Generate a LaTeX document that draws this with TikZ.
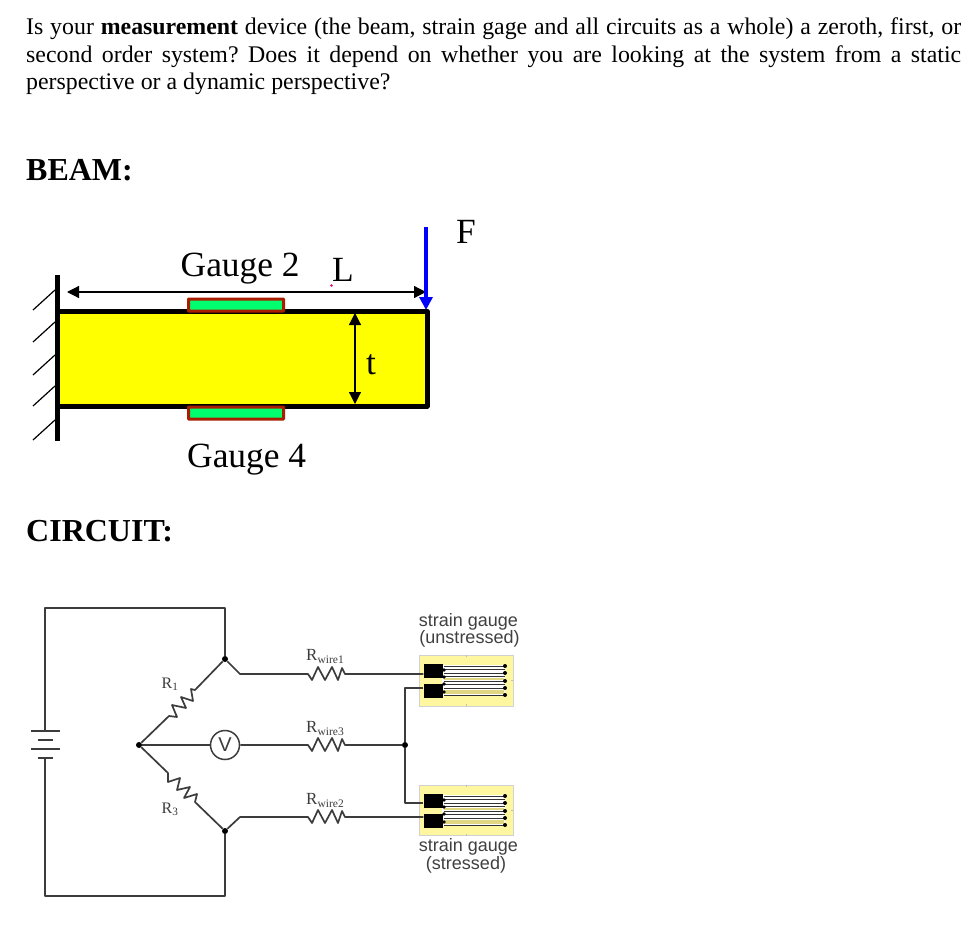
\documentclass[tikz,border=0pt]{standalone}
\usepackage{fontspec}
\setmainfont{Liberation Serif}
\newfontfamily\gaugefont{Liberation Sans}
\usetikzlibrary{arrows.meta}
\frenchspacing
\definecolor{wirecol}{RGB}{60,60,60}
\definecolor{padyellow}{RGB}{255,247,160}
\definecolor{gaugegreen}{RGB}{0,255,110}
\definecolor{gaugered}{RGB}{170,30,0}
\definecolor{beamyellow}{RGB}{255,255,0}
\definecolor{forceblue}{RGB}{0,0,255}
\definecolor{dotpink}{RGB}{230,0,120}
\definecolor{bandyellow}{RGB}{225,215,130}
\tikzset{
 lab/.style={inner sep=0pt,anchor=base west},
 body/.style={lab,font=\fontsize{23.85}{28}\selectfont},
 head/.style={lab,font=\fontsize{32}{36}\selectfont\bfseries},
 big/.style={lab,font=\fontsize{35.4}{40}\selectfont},
 rlab/.style={lab,font=\fontsize{16}{16}\selectfont,text=wirecol},
 small/.style={inner sep=0pt,anchor=base,font=\fontsize{17}{16}\selectfont,text=wirecol},
 sans/.style={inner sep=0pt,anchor=center,font=\fontsize{18}{17}\gaugefont,text=black!75},
 wire/.style={draw=wirecol,line width=1.7pt,line join=round},
 dotn/.style={circle,fill=black,inner sep=0pt,minimum size=6pt},
 beamline/.style={line width=5pt,line join=round,line cap=round},
 strain/.style={draw=gaugered,fill=gaugegreen,line width=3pt,rounded corners=.6pt},
 dim/.style={line width=1.2pt,{Triangle[length=12pt,width=12pt]}-{Triangle[length=12pt,width=12pt]}},
 hatch/.style={line width=1.2pt},
 gaugebox/.style={draw=black!18,fill=padyellow,line width=1pt},
 pad/.style={fill=black,inner sep=0pt,minimum width=19pt,minimum height=14pt},
}
\newcommand{\wsub}[1]{\raisebox{-3pt}{\fontsize{11.5}{12}\selectfont #1}}
\newcommand{\gridat}[2]{%
 \fill[white] (#1+23,#2+10) rectangle (#1+86,#2+41);
 \fill[bandyellow] (#1+25,#2+23) rectangle (#1+85,#2+25);
 \fill[bandyellow] (#1+25,#2+34.5) rectangle (#1+85,#2+38.5);
 \foreach \yy in {11,14.5,18,21.5,26,29.5,33,40}
  \draw[black!80,line width=1pt] (#1+25,#2+\yy) -- (#1+86,#2+\yy);
 \foreach \yy in {11,18,26,33,40} \fill[black] (#1+86,#2+\yy) circle (2pt);
 \foreach \yy in {15,22,29,37} \fill[black] (#1+25,#2+\yy) circle (1.8pt);
 \foreach \tx/\ty/\ux/\uy in {47/0/47/2,47/49/47/51,92/25/94/25}
  \draw[black!25,line width=.7pt] (#1+\tx,#2+\ty) -- (#1+\ux,#2+\uy);
}
\begin{document}
\begin{tikzpicture}[x=1pt,y=-1pt]
\useasboundingbox (0,0) rectangle (975,931);
\fill[white] (0,0) rectangle (975,931);
% paragraph
\node[body] (p1) at (26,34.5) {\makebox[935pt][s]{Is your \textbf{measurement} device (the beam, strain gage and all circuits as a whole) a zeroth, first, or}};
\node[body] (p2) at (26,62.5) {\makebox[935pt][s]{second order system? Does it depend on whether you are looking at the system from a static}};
\node[body] (p3) at (26,90) {perspective or a dynamic perspective?};
\node[head] (beamh) at (26,180) {BEAM:};
\node[head] (circh) at (26,541) {CIRCUIT:};
% beam
\draw[fill=beamyellow,beamline] (57,311) rectangle (427,406);
\draw[line width=5pt] (57,275) -- (57,441);
\foreach \yy in {310,342,375,406,440}
 \draw[hatch] (33,\yy) -- (55,\yy-20);
\node[strain,minimum width=95pt,minimum height=12pt,inner sep=0pt] (g2) at (236,305) {};
\node[strain,minimum width=95pt,minimum height=12pt,inner sep=0pt] (g4) at (236,413) {};
\node[big] (g2t) at (180.5,276.5) {Gauge 2};
\node[big] (g4t) at (187,467.5) {Gauge 4};
\node[big] (Lt) at (332,281) {L};
\node[big] (Ft) at (456,243) {F};
\node[big] (tt) at (366,374) {t};
\coordinate (La) at (67,292); \coordinate (Lb) at (426,292);
\draw[dim] (La) -- (Lb);
\coordinate (ta) at (355,313); \coordinate (tb) at (355,404);
\draw[dim] (ta) -- (tb);
\coordinate (Fa) at (426,227); \coordinate (Fb) at (426,310);
\draw[forceblue,line width=4pt,-{Triangle[length=13pt,width=13pt]}] (Fa) -- (Fb);
\fill[dotpink] (331.5,285.5) circle (1.3pt);
% circuit nodes
\node[dotn] (n1) at (225,659) {};
\node[dotn] (nc) at (139,745) {};
\node[dotn] (n3) at (225,831) {};
\node[dotn] (nj) at (405,745) {};
\node[circle,draw=wirecol,line width=1.5pt,minimum size=29pt,inner sep=0pt,font=\fontsize{20}{20}\gaugefont,text=wirecol] (vm) at (225,745) {V};
% supply
\coordinate (tl) at (45,608); \coordinate (tr) at (225,608);
\coordinate (bl) at (45,896); \coordinate (br) at (225,896);
\coordinate (ba) at (45,731); \coordinate (bb) at (45,758);
\draw[wire] (ba) -- (tl) -- (tr) -- (n1);
\draw[wire] (bb) -- (bl) -- (br) -- (n3);
\draw[wire] (31,731) -- (60,731) (38,740) -- (53,740) (31,749) -- (60,749) (38,758) -- (53,758);
% bridge arms
\draw[wire] (n1) -- (195,690) -- (191,689) -- (193,701) -- (181,697) -- (186,708) -- (172,705) -- (177,717) -- (169,716) -- (nc);
\draw[wire] (nc) -- (168,773) -- (168,782) -- (180,778) -- (177,790) -- (190,787) -- (184,798) -- (197,794) -- (195,802) -- (n3);
\draw[wire] (nc) -- (vm);
% gauges
\node[gaugebox,minimum width=94pt,minimum height=51pt,inner sep=0pt] (sg1) at (466,680.5) {};
\node[gaugebox,minimum width=94pt,minimum height=50pt,inner sep=0pt] (sg2) at (466,810) {};
\gridat{419}{655}
\gridat{419}{785}
\node[pad] (p1a) at (433,671) {};
\node[pad] (p1b) at (433,691) {};
\node[pad] (p2a) at (433,801) {};
\node[pad] (p2b) at (433,821) {};
% wire runs
\draw[wire] (n1) -- (240,674) -- (308,674) -- (312,680) -- (318,667) -- (325,680) -- (332,667) -- (338,680) -- (342,668) -- (345,674) -- (p1a.west |- 0,674);
\draw[wire] (vm) -- (308,745) -- (312,751) -- (318,738) -- (325,751) -- (332,738) -- (338,751) -- (342,739) -- (345,745) -- (nj);
\draw[wire] (n3) -- (240,817) -- (308,817) -- (312,823) -- (318,810) -- (325,823) -- (332,810) -- (338,823) -- (342,811) -- (345,817) -- (p2b.west |- 0,817);
\draw[wire] (p1b.west |- 0,688) -- (405,688) -- (nj) -- (405,803) -- (p2a.west |- 0,803);
% labels
\node[rlab] (r1) at (161.5,688) {R\textsubscript{1}};
\node[rlab] (r3) at (161.5,813) {R\textsubscript{3}};
\node[small] (w1) at (325,660) {R\wsub{wire1}};
\node[small] (w3) at (325,732) {R\wsub{wire3}};
\node[small] (w2) at (325,804) {R\wsub{wire2}};
\node[sans] (s1) at (468.5,622) {strain gauge};
\node[sans] (s2) at (469.5,639) {(unstressed)};
\node[sans] (s3) at (468.5,847) {strain gauge};
\node[sans] (s4) at (466,865) {(stressed)};
\end{tikzpicture}
\end{document}
